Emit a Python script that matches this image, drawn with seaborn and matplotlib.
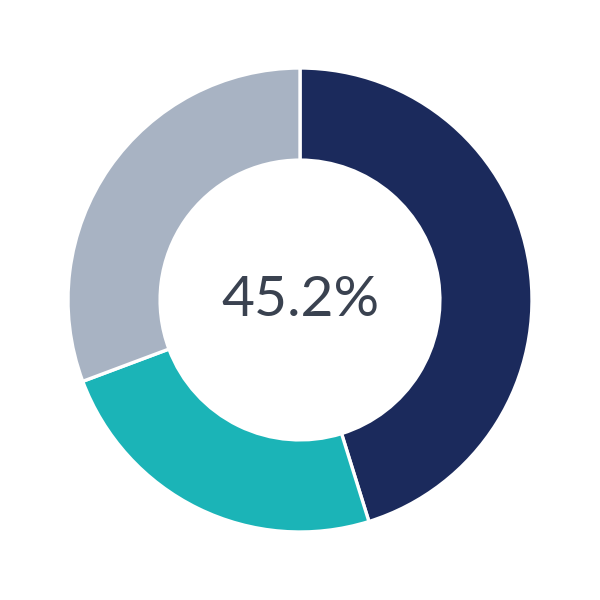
import matplotlib
matplotlib.use("Agg")
import matplotlib.pyplot as plt
import seaborn as sns

labels = ["Navy", "Teal", "Gray"]
shares = [45.2, 24.1, 30.7]
colors = ["#1b2a5c", "#1bb4b7", "#a8b3c3"]
center_label = "45.2%"

sns.set_theme(style="white")
plt.rcParams["font.family"] = ["Lato", "DejaVu Sans"]
palette = sns.color_palette(colors)

fig = plt.figure(figsize=(6, 6), dpi=100)
ax = fig.add_axes([0, 0, 1, 1])
ax.pie(shares, colors=palette, startangle=90, counterclock=False,
       radius=1.0,
       wedgeprops=dict(width=0.397, edgecolor="white", linewidth=2.4))
ax.text(0, 0, center_label, ha="center", va="center",
        fontsize=41, color="#3a4250")
lim = 300 / 232
ax.set_xlim(-lim, lim)
ax.set_ylim(-lim, lim)
ax.set_aspect("equal")
ax.axis("off")
fig.savefig("out.png", dpi=100, facecolor="white")
